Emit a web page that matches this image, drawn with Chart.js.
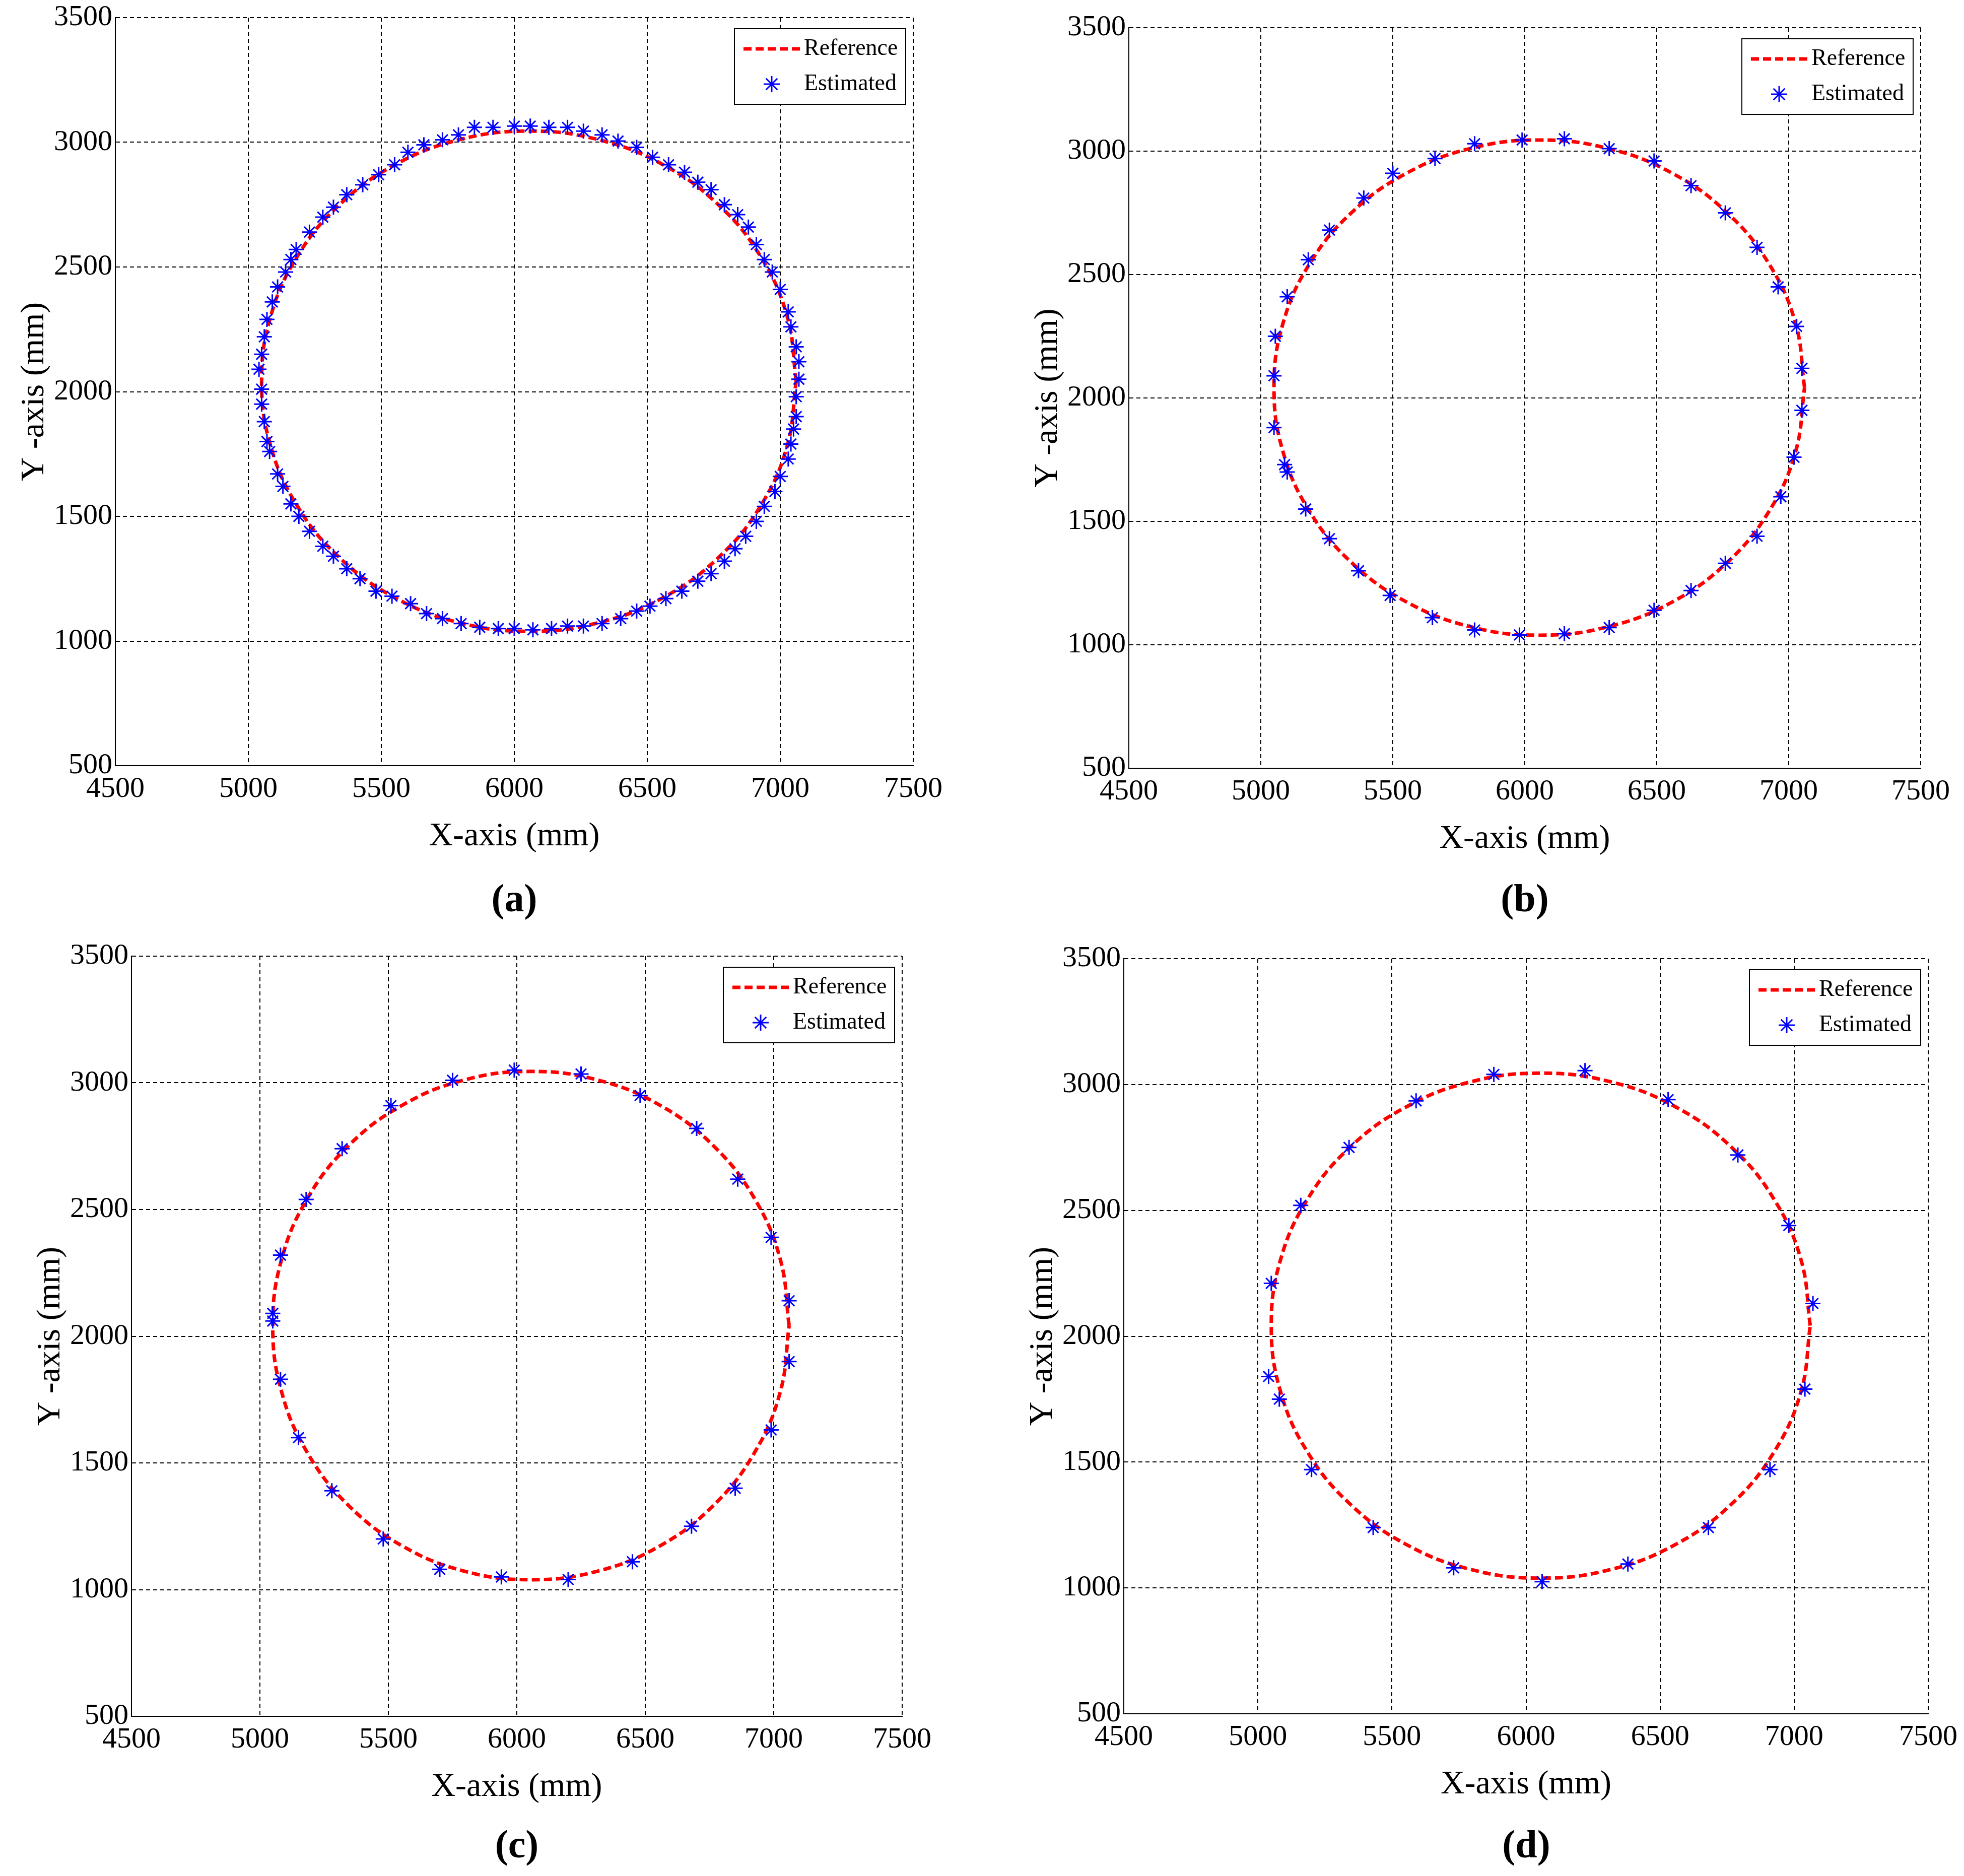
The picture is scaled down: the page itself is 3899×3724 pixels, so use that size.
<!DOCTYPE html>
<html>
<head>
<meta charset="utf-8">
<script src="https://cdn.jsdelivr.net/npm/chart.js@4/dist/chart.umd.min.js"></script>
<style>
body { margin: 0; background: #fff; width: 3899px; height: 3724px; position: relative; overflow: hidden; }
canvas { position: absolute; }
.cap { position: absolute; font: bold 78px "Liberation Serif", serif; transform: translate(-50%, -50%); }
</style>
</head>
<body>
<canvas id="pa"></canvas><canvas id="pb"></canvas><canvas id="pc"></canvas><canvas id="pd"></canvas>
<div class="cap" style="left:1021px;top:1783px">(a)</div>
<div class="cap" style="left:3027px;top:1783px">(b)</div>
<div class="cap" style="left:1026px;top:3661px">(c)</div>
<div class="cap" style="left:3030px;top:3661px">(d)</div>
<script>
// reference trajectory (circle)
const refX = [7060, 7026, 6925, 6766, 6558, 6315, 6055, 5795, 5553, 5344, 5185, 5084, 5050, 5084, 5185, 5344, 5553, 5795, 6055, 6315, 6558, 6766, 6925, 7026, 7060];
const refY = [2042, 2302, 2544, 2751, 2911, 3011, 3045, 3011, 2911, 2751, 2544, 2302, 2042, 1782, 1540, 1333, 1173, 1073, 1039, 1073, 1173, 1333, 1540, 1782, 2042];

const estA = [[5850,3060],[5920,3060],[6000,3065],[6060,3065],[6130,3060],[6200,3060],[6260,3045],[6330,3030],[6390,3005],[6460,2980],[6520,2940],[6580,2910],[6640,2880],[6690,2840],[6740,2810],[6790,2750],[6840,2710],[6880,2660],[6910,2590],[6940,2530],[6970,2480],[7000,2410],[7030,2320],[7040,2260],[7060,2180],[7070,2120],[7070,2050],[7060,1980],[7060,1900],[7050,1850],[7040,1790],[7030,1730],[7000,1660],[6980,1600],[6940,1540],[6910,1480],[6870,1420],[6830,1370],[6790,1320],[6740,1270],[6690,1240],[6630,1200],[6570,1170],[6510,1140],[6460,1120],[6400,1090],[6330,1070],[6260,1060],[6200,1060],[6140,1050],[6070,1045],[6000,1050],[5940,1050],[5870,1055],[5800,1070],[5730,1090],[5670,1110],[5610,1150],[5540,1180],[5480,1200],[5420,1250],[5370,1290],[5320,1340],[5280,1380],[5230,1440],[5190,1500],[5160,1550],[5130,1620],[5110,1670],[5080,1760],[5070,1800],[5060,1880],[5050,1950],[5050,2010],[5040,2090],[5050,2150],[5060,2220],[5070,2290],[5090,2360],[5110,2420],[5140,2480],[5160,2530],[5180,2570],[5230,2640],[5280,2700],[5320,2740],[5370,2790],[5430,2830],[5490,2870],[5550,2910],[5600,2960],[5660,2990],[5730,3010],[5790,3030]];
const estB = [[6150,3050],[5990,3045],[5810,3030],[5660,2970],[5500,2910],[5390,2810],[5260,2680],[5180,2560],[5100,2410],[5055,2250],[5050,2090],[5050,1880],[5090,1730],[5100,1700],[5170,1550],[5260,1430],[5370,1300],[5490,1200],[5650,1110],[5810,1060],[5980,1040],[6150,1045],[6320,1070],[6490,1140],[6630,1220],[6760,1330],[6880,1440],[6970,1600],[7020,1760],[7050,1950],[7050,2120],[7030,2290],[6960,2450],[6880,2610],[6760,2750],[6630,2860],[6490,2960],[6320,3010]];
const estC = [[5990,3050],[6250,3035],[6480,2950],[6700,2820],[6860,2620],[6990,2390],[7060,2140],[7060,1900],[6990,1630],[6850,1400],[6680,1250],[6450,1110],[6200,1040],[5940,1050],[5700,1080],[5480,1200],[5280,1390],[5150,1600],[5080,1830],[5050,2060],[5050,2090],[5080,2320],[5180,2540],[5320,2740],[5510,2910],[5750,3010]];
const estD = [[6220,3055],[5880,3040],[5590,2935],[5340,2750],[5160,2520],[5050,2210],[5040,1840],[5080,1750],[5200,1470],[5430,1240],[5730,1080],[6060,1025],[6380,1095],[6680,1240],[6910,1470],[7040,1790],[7070,2130],[6980,2440],[6790,2720],[6530,2940]];

const legendLabels = ['Reference', 'Estimated'];
const YW = 200, XH = 180, PR = 90, PT = 45;
const serif = '"Liberation Serif", serif';

const legendBox = {
    id: 'legendBox',
    afterDraw(chart) {
        const ctx = chart.ctx, a = chart.chartArea;
        const w = 340, h = 150, x = a.right - w - 15, y = a.top + 22;
        ctx.save();
        ctx.fillStyle = '#fff';
        ctx.fillRect(x, y, w, h);
        ctx.strokeStyle = '#000';
        ctx.lineWidth = 2;
        ctx.strokeRect(x, y, w, h);
        ctx.strokeStyle = '#ff0000';
        ctx.lineWidth = 7;
        ctx.setLineDash([16, 8]);
        ctx.beginPath();
        ctx.moveTo(x + 18, y + 40);
        ctx.lineTo(x + 130, y + 40);
        ctx.stroke();
        ctx.setLineDash([]);
        ctx.strokeStyle = '#0000ff';
        ctx.lineWidth = 3;
        const cx = x + 74, cy = y + 110, r = 16;
        ctx.beginPath();
        for (let k = 0; k < 4; k++) {
            const t = k * Math.PI / 4;
            ctx.moveTo(cx - r * Math.cos(t), cy - r * Math.sin(t));
            ctx.lineTo(cx + r * Math.cos(t), cy + r * Math.sin(t));
        }
        ctx.stroke();
        ctx.fillStyle = '#000';
        ctx.font = '46px ' + serif;
        ctx.textBaseline = 'middle';
        ctx.fillText(legendLabels[0], x + 138, y + 40);
        ctx.fillText(legendLabels[1], x + 138, y + 110);
        ctx.restore();
    }
};

function makePanel(id, est, L, R, T, B) {
    const cv = document.getElementById(id);
    const W = (R - L) + YW + PR, H = (B - T) + PT + XH;
    cv.width = W; cv.height = H;
    cv.style.left = (L - YW) + 'px';
    cv.style.top = (T - PT) + 'px';
    const grid = { color: '#000', lineWidth: 2, drawTicks: false };
    const border = { color: '#000', width: 2, dash: [8, 6] };
    const tickFont = { family: serif, size: 58 };
    new Chart(cv.getContext('2d'), {
        type: 'scatter',
        data: {
            datasets: [{
                label: legendLabels[0],
                data: refX.map((x, i) => ({ x: x, y: refY[i] })),
                showLine: true,
                tension: 0.4,
                borderColor: '#ff0000',
                borderWidth: 7,
                borderDash: [16, 8],
                pointRadius: 0,
                order: 2
            }, {
                label: legendLabels[1],
                data: est.map(p => ({ x: p[0], y: p[1] })),
                pointStyle: 'star',
                pointRadius: 15,
                borderColor: '#0000ff',
                backgroundColor: '#0000ff',
                borderWidth: 3,
                order: 1
            }]
        },
        options: {
            responsive: false,
            animation: false,
            devicePixelRatio: 1,
            layout: { padding: { left: 0, right: PR, top: PT, bottom: 0 } },
            plugins: { legend: { display: false }, tooltip: { enabled: false } },
            scales: {
                x: {
                    type: 'linear', min: 4500, max: 7500,
                    ticks: { stepSize: 500, color: '#000', font: tickFont, padding: 12, maxRotation: 0, callback: v => String(v) },
                    grid: grid, border: border,
                    title: { display: true, text: 'X-axis (mm)', color: '#000', font: { family: serif, size: 66 }, padding: 0 },
                    afterFit(s) { s.height = XH; }
                },
                y: {
                    type: 'linear', min: 500, max: 3500,
                    ticks: { stepSize: 500, color: '#000', font: tickFont, padding: 6, callback: v => String(v) },
                    grid: grid, border: border,
                    title: { display: true, text: 'Y -axis (mm)', color: '#000', font: { family: serif, size: 66 }, padding: 0 },
                    afterFit(s) { s.width = YW; }
                }
            }
        },
        plugins: [legendBox]
    });
}

makePanel('pa', estA, 229, 1813, 35, 1520);
makePanel('pb', estB, 2241, 3813, 55, 1525);
makePanel('pc', estC, 261, 1791, 1898, 3407);
makePanel('pd', estD, 2231, 3828, 1903, 3402);
</script>
</body>
</html>
